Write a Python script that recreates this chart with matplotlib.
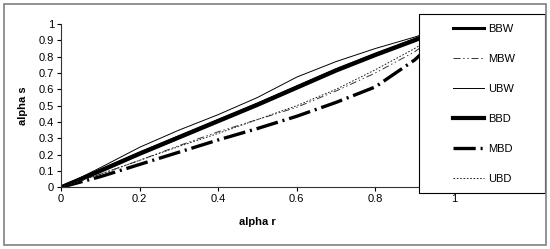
import matplotlib as mpl
mpl.use("Agg")
import matplotlib.pyplot as plt
from matplotlib.patches import Rectangle

plt.rcParams['font.family'] = ['Liberation Sans', 'DejaVu Sans']
plt.rcParams['lines.scale_dashes'] = False

# values
alpha_r = [0, 0.1, 0.2, 0.3, 0.4, 0.5, 0.6, 0.7, 0.8, 0.9, 1.0]
bbw = [0, 0.105, 0.21, 0.31, 0.41, 0.51, 0.615, 0.72, 0.815, 0.905, 1.0]
mbw = [0, 0.08, 0.165, 0.255, 0.34, 0.415, 0.49, 0.59, 0.70, 0.83, 1.0]
ubw = [0, 0.12, 0.245, 0.35, 0.445, 0.55, 0.675, 0.77, 0.85, 0.92, 1.0]
bbd = [0, 0.10, 0.205, 0.305, 0.405, 0.505, 0.61, 0.715, 0.81, 0.90, 1.0]
mbd = [0, 0.065, 0.14, 0.215, 0.29, 0.36, 0.435, 0.52, 0.615, 0.78, 1.0]
ubd = [0, 0.08, 0.165, 0.25, 0.33, 0.415, 0.5, 0.6, 0.72, 0.85, 1.0]

xticks = [0, 0.2, 0.4, 0.6, 0.8, 1]
xlabels = ['0', '0.2', '0.4', '0.6', '0.8', '1']
yticks = [0, 0.1, 0.2, 0.3, 0.4, 0.5, 0.6, 0.7, 0.8, 0.9, 1]
ylabels = ['0', '0.1', '0.2', '0.3', '0.4', '0.5', '0.6', '0.7', '0.8', '0.9', '1']

fig = plt.figure(figsize=(5.5, 2.49), dpi=100)
ax = fig.add_axes([0.1109, 0.2478, 0.7145, 0.6558])

ax.plot(alpha_r, bbw, color='black', lw=2.2, label='BBW')
ax.plot(alpha_r, mbw, color='#333333', lw=0.7, dashes=(5, 2, 1, 2, 1, 2), label='MBW')
ax.plot(alpha_r, ubw, color='black', lw=0.7, label='UBW')
ax.plot(alpha_r, bbd, color='black', lw=3.0, label='BBD')
ax.plot(alpha_r, mbd, color='black', lw=2.4, dashes=(16, 3.5, 1.5, 3.5), label='MBD')
ax.plot(alpha_r, ubd, color='#222222', lw=0.7, dashes=(1.2, 1.2), label='UBD')

ax.set_xlim(0, 1)
ax.set_ylim(0, 1)
ax.set_xticks(xticks)
ax.set_xticklabels(xlabels)
ax.set_yticks(yticks)
ax.set_yticklabels(ylabels)
ax.tick_params(direction='out', length=3, width=0.8, labelsize=8, pad=2, colors='black')

for s in ['top', 'right']:
    ax.spines[s].set_visible(False)
for s in ['left', 'bottom']:
    ax.spines[s].set_color('#333333')
    ax.spines[s].set_linewidth(0.8)

ax.set_xlabel('alpha r', fontsize=8, fontweight='bold')
ax.set_ylabel('alpha s', fontsize=8, fontweight='bold')
ax.xaxis.set_label_coords(0.5, -0.18)
ax.yaxis.set_label_coords(-0.085, 0.5)

# legend frame in figure pixels
box = Rectangle((419 / 550, 1 - 193 / 249), 126 / 550, 179 / 249,
                transform=fig.transFigure, facecolor='white', edgecolor='black',
                lw=0.8, zorder=5, clip_on=False)
ax.add_patch(box)
leg = ax.legend(loc='center', bbox_to_anchor=(484 / 550, 1 - 103.5 / 249),
                bbox_transform=fig.transFigure, frameon=False, fontsize=8,
                handlelength=2.8, handletextpad=0.3, labelspacing=1.8)
leg.set_zorder(10)

fig.patches.append(Rectangle((3.5 / 550, 4.5 / 249), 542.5 / 550, 240 / 249,
                             transform=fig.transFigure, fill=False,
                             edgecolor='#808080', lw=1.2))

fig.savefig('out.png', dpi=100)
